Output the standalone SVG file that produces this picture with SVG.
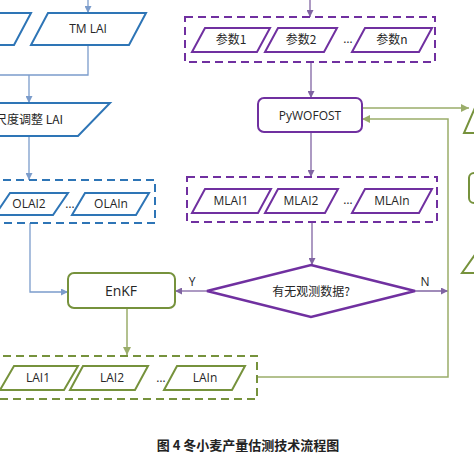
<svg xmlns="http://www.w3.org/2000/svg" width="474" height="465" viewBox="0 0 474 465">
<defs>
<style>
.bg{fill:#ffffff}
.pb{fill:#ffffff;stroke:#2e75b6;stroke-width:2;stroke-linejoin:miter}
.pp{fill:#ffffff;stroke:#7030a0;stroke-width:2}
.pg{fill:#ffffff;stroke:#76923c;stroke-width:2}
.db{fill:none;stroke:#2e75b6;stroke-width:2;stroke-dasharray:8 5}
.dp{fill:none;stroke:#7030a0;stroke-width:2;stroke-dasharray:8 5}
.dg{fill:none;stroke:#76923c;stroke-width:2;stroke-dasharray:8 5}
.cb{fill:none;stroke:#7b9ccb;stroke-width:1.3}
.cp{fill:none;stroke:#8064a2;stroke-width:1.3}
.cg{fill:none;stroke:#9aad6a;stroke-width:1.5}
.t{font-family:"Open Sans","Noto Sans CJK SC",sans-serif;font-size:12px;fill:#262626;text-anchor:middle}
.tc{font-family:"Noto Sans CJK SC",sans-serif;font-size:12px;fill:#262626;text-anchor:middle}
</style>
<marker id="ab" viewBox="0 0 10 10" refX="10" refY="5" markerWidth="7" markerHeight="7" markerUnits="userSpaceOnUse" orient="auto"><path d="M0,0 L10,5 L0,10 z" fill="#7b9ccb"/></marker>
<marker id="ap" viewBox="0 0 10 10" refX="10" refY="5" markerWidth="7" markerHeight="7" markerUnits="userSpaceOnUse" orient="auto"><path d="M0,0 L10,5 L0,10 z" fill="#8064a2"/></marker>
<marker id="ag" viewBox="0 0 10 10" refX="10" refY="5" markerWidth="8" markerHeight="8" markerUnits="userSpaceOnUse" orient="auto"><path d="M0,0 L10,5 L0,10 z" fill="#9aad6a"/></marker>
</defs>
<rect class="bg" x="0" y="0" width="474" height="465"/>

<g id="connectors">
<path class="cb" d="M88,0 V13" marker-end="url(#ab)"/>
<path class="cb" d="M88,45 V75 H0"/>
<path class="cb" d="M29,75 V103" marker-end="url(#ab)"/>
<path class="cb" d="M29,136 V180" marker-end="url(#ab)"/>
<path class="cb" d="M30,223 V292 H68" marker-end="url(#ab)"/>
<path class="cp" d="M310,0 V17" marker-end="url(#ap)"/>
<path class="cp" d="M311,62 V98" marker-end="url(#ap)"/>
<path class="cp" d="M311,132 V177" marker-end="url(#ap)"/>
<path class="cp" d="M312,222 V265" marker-end="url(#ap)"/>
<path class="cp" d="M207,291 H175" marker-end="url(#ap)"/>
<path class="cp" d="M415,291 H448" marker-end="url(#ap)"/>
<path class="cg" d="M127,308 V355" marker-end="url(#ag)"/>
<path class="cg" d="M257,377 H448 V119 H362" marker-end="url(#ag)"/>
<path class="cg" d="M362,108 H469" marker-end="url(#ag)"/>
</g>

<g id="node-left-input"><polygon class="pb" points="-100,13 31,13 14,45 -120,45"/></g>
<g id="node-tmlai"><polygon class="pb" points="48,13 146,13 129,45 31,45"/><text class="t" x="88" y="33">TM LAI</text></g>
<g id="node-scale"><polygon class="pb" points="-60,103 110,103 78,136 -90,136"/><text class="tc" x="29" y="124">尺度调整 LAI</text></g>
<g id="node-olai">
<rect class="db" x="-10" y="180" width="165" height="43"/>
<polygon class="pb" points="10,193 68,193 53,215 -5,215"/><text class="t" x="29" y="208">OLAI2</text>
<text class="t" x="70" y="208">…</text>
<polygon class="pb" points="85,193 149,193 136,215 72,215"/><text class="t" x="111" y="208">OLAIn</text>
</g>

<g id="node-params">
<rect class="dp" x="185" y="17" width="250" height="45"/>
<polygon class="pp" points="205,28 270,28 257,52 192,52"/><text class="tc" x="231" y="44">参数1</text>
<polygon class="pp" points="278,28 337,28 324,52 265,52"/><text class="tc" x="301" y="44">参数2</text>
<text class="t" x="348" y="43">…</text>
<polygon class="pp" points="365,28 432,28 419,52 352,52"/><text class="tc" x="392" y="44">参数n</text>
</g>
<g id="node-pywofost"><rect class="pp" x="258" y="98" width="104" height="34" rx="6"/><text class="t" x="310" y="120">PyWOFOST</text></g>
<g id="node-mlai">
<rect class="dp" x="187" y="177" width="250" height="45"/>
<polygon class="pp" points="205,189 271,189 258,213 192,213"/><text class="t" x="231" y="205">MLAI1</text>
<polygon class="pp" points="278,189 338,189 325,213 265,213"/><text class="t" x="301" y="205">MLAI2</text>
<text class="t" x="348" y="204">…</text>
<polygon class="pp" points="365,189 432,189 419,213 352,213"/><text class="t" x="392" y="205">MLAIn</text>
</g>
<g id="node-decision"><polygon class="pp" points="311,265 415,291 311,317 207,291" style="stroke-width:2.5"/><text class="tc" x="311" y="296">有无观测数据?</text></g>
<g id="label-y"><text class="t" x="192" y="286">Y</text></g>
<g id="label-n"><text class="t" x="425" y="286">N</text></g>
<g id="node-enkf"><rect class="pg" x="68" y="273" width="107" height="35" rx="6"/><text class="t" x="121" y="296" style="font-size:14px">EnKF</text></g>
<g id="node-lai">
<rect class="dg" x="-10" y="356" width="267" height="43"/>
<polygon class="pg" points="14,366 78,366 64,390 0,390"/><text class="t" x="38" y="382">LAI1</text>
<polygon class="pg" points="83,366 148,366 135,390 70,390"/><text class="t" x="112" y="382">LAI2</text>
<text class="t" x="161" y="382">…</text>
<polygon class="pg" points="177,366 245,366 232,390 164,390"/><text class="t" x="205" y="382">LAIn</text>
</g>
<g id="node-right-top"><polygon class="pg" points="477,103 600,103 590,133 464,133"/></g>
<g id="node-right-mid"><rect class="pg" x="469" y="173" width="100" height="30" rx="5"/></g>
<g id="node-right-bottom"><polygon class="pg" points="481,246 600,246 590,273 462,273"/></g>
<g id="caption"><text x="248" y="450" style="font-family:'Noto Sans CJK SC',sans-serif;font-size:13px;font-weight:bold;fill:#222;text-anchor:middle">图 4  冬小麦产量估测技术流程图</text></g>
</svg>
